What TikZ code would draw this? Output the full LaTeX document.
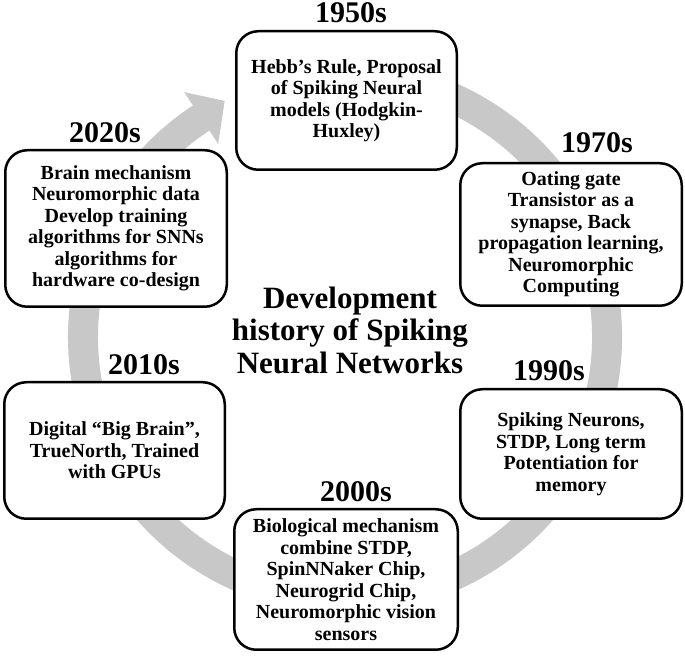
\documentclass[tikz,border=0pt]{standalone}
\usepackage{fontspec}
\setmainfont{Liberation Serif}
\usetikzlibrary{calc}
\begin{document}
\begin{tikzpicture}[x=1pt,y=1pt,
  ringline/.style={draw=ringgray,line width=30pt},
  boxnode/.style={draw=black,line width=2.5pt,fill=white,rounded corners=22pt,
    align=center,inner sep=0pt,font=\bfseries\fontsize{20}{21.5}\selectfont},
  yearlabel/.style={anchor=base,inner sep=0pt,font=\bfseries\fontsize{30}{30}\selectfont},
  titlenode/.style={align=center,inner sep=0pt,font=\bfseries\fontsize{31}{32.5}\selectfont}]
\definecolor{ringgray}{HTML}{C8C8C8}
\useasboundingbox (0,0) rectangle (685,660);
\coordinate (C) at (345,323);
% ring with arrowhead
\draw[ringline] ($(C)+(112:262)$) arc[start angle=112,end angle=-237,radius=262];
\fill[ringgray] ($(C)+(123.3:231)$) -- ($(C)+(117:265)$) -- ($(C)+(123.3:293)$) -- cycle;
% boxes
\node[boxnode,minimum width=220.5pt,minimum height=138.5pt] (b1950) at (346.5,559.5)
  {Hebb’s Rule, Proposal\\of Spiking Neural\\models (Hodgkin-\\Huxley)};
\node[boxnode,minimum width=221.5pt,minimum height=156.5pt] (b2020) at (116,431.5)
  {Brain mechanism\\Neuromorphic data\\Develop training\\algorithms for SNNs\\algorithms for\\hardware co-design};
\node[boxnode,minimum width=221.5pt,minimum height=142.5pt] (b1970) at (571,425.5)
  {Oating gate\\Transistor as a\\synapse, Back\\propagation learning,\\Neuromorphic\\Computing};
\node[boxnode,minimum width=221.5pt,minimum height=129.5pt] (b1990) at (571,206)
  {Spiking Neurons,\\STDP, Long term\\Potentiation for\\memory};
\node[boxnode,minimum width=220.5pt,minimum height=136.5pt] (b2010) at (114.5,209.5)
  {Digital “Big Brain”,\\TrueNorth, Trained\\with GPUs};
\node[boxnode,minimum width=223.5pt,minimum height=140.5pt] (b2000) at (346,80.5)
  {Biological mechanism\\combine STDP,\\SpinNNaker Chip,\\Neurogrid Chip,\\Neuromorphic vision\\sensors};
% year labels
\node[yearlabel] (y1950) at (351,637) {1950s};
\node[yearlabel] (y2020) at (105,517) {2020s};
\node[yearlabel] (y1970) at (597,507) {1970s};
\node[yearlabel] (y1990) at (549,279) {1990s};
\node[yearlabel] (y2010) at (144,285) {2010s};
\node[yearlabel] (y2000) at (356,158) {2000s};
% title
\node[titlenode] (title) at (350,330) {Development\\history of Spiking\\Neural Networks};
\end{tikzpicture}
\end{document}
